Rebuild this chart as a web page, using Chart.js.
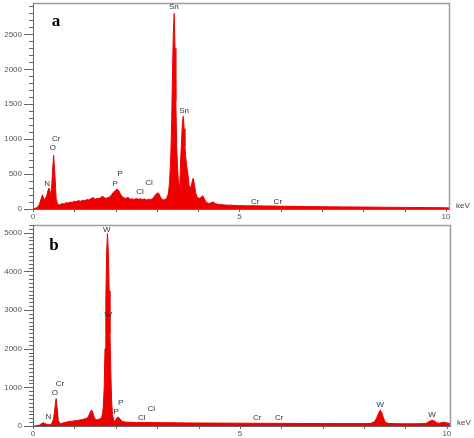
<!DOCTYPE html>
<html><head><meta charset="utf-8">
<script src="https://cdn.jsdelivr.net/npm/chart.js@4/dist/chart.umd.min.js"></script>
<style>
html,body{margin:0;padding:0;background:#fff;width:474px;height:438px;overflow:hidden}
canvas{position:absolute;left:0}
#ca{top:0}
#cb{top:220px}
</style></head><body>
<canvas id="ca" width="474" height="220"></canvas>
<canvas id="cb" width="474" height="218"></canvas>
<script>
// ---- Panel a spectrum ----
const energyA=[0.00,0.05,0.10,0.15,0.20,0.23,0.27,0.30,0.33,0.36,0.39,0.42,0.45,0.48,0.50,0.53,0.56,0.60,0.65,0.70,0.75,0.80,0.85,0.90,0.95,1.00,1.05,1.10,1.15,1.20,1.25,1.30,1.35,1.40,1.45,1.50,1.55,1.60,1.65,1.70,1.75,1.80,1.85,1.90,1.95,2.00,2.04,2.08,2.12,2.16,2.20,2.25,2.30,2.35,2.40,2.45,2.50,2.55,2.60,2.65,2.70,2.75,2.80,2.85,2.90,2.95,3.00,3.04,3.08,3.12,3.16,3.20,3.24,3.28,3.31,3.34,3.36,3.38,3.40,3.42,3.44,3.46,3.48,3.50,3.52,3.54,3.56,3.58,3.60,3.62,3.64,3.66,3.68,3.70,3.72,3.75,3.78,3.80,3.83,3.86,3.88,3.91,3.94,3.97,4.00,4.04,4.08,4.11,4.14,4.18,4.22,4.26,4.30,4.34,4.38,4.42,4.50,4.60,4.70,4.80,4.90,5.00,5.20,5.40,5.60,5.80,6.00,6.30,6.60,7.00,7.50,8.00,8.50,9.00,9.50,10.00,10.10];
const countsA=[0,10,20,60,150,205,120,160,180,260,300,200,300,600,770,500,150,60,60,80,70,90,85,100,95,110,105,120,110,125,120,135,130,145,165,140,150,145,170,180,150,160,170,200,240,270,285,260,210,180,160,150,170,140,145,135,150,140,145,135,145,130,140,135,150,190,225,230,180,140,130,135,160,220,400,800,1300,2000,2550,2800,2300,1550,900,600,420,340,420,750,1000,1250,1330,1150,900,750,620,520,330,280,320,400,440,350,230,180,160,150,175,190,160,110,90,80,85,100,95,75,65,60,55,55,50,48,45,45,43,42,40,38,35,32,30,28,25,23,20,18,15];
// ---- Panel b spectrum ----
const energyB=[0.00,0.05,0.10,0.15,0.20,0.25,0.30,0.35,0.40,0.45,0.50,0.54,0.56,0.58,0.61,0.65,0.70,0.75,0.80,0.85,0.90,0.95,1.00,1.05,1.10,1.15,1.20,1.25,1.30,1.34,1.38,1.41,1.44,1.47,1.50,1.54,1.58,1.62,1.66,1.68,1.70,1.72,1.74,1.76,1.78,1.80,1.82,1.84,1.86,1.88,1.90,1.92,1.95,1.98,2.01,2.05,2.09,2.13,2.18,2.25,2.35,2.50,2.70,2.90,3.10,3.30,3.50,3.75,4.00,4.50,5.00,5.50,6.00,6.50,7.00,7.50,8.00,8.15,8.25,8.30,8.35,8.39,8.43,8.47,8.52,8.60,8.80,9.00,9.20,9.40,9.50,9.58,9.64,9.70,9.76,9.82,9.88,9.94,10.00,10.10];
const countsB=[0,5,10,20,60,85,60,40,35,50,200,560,710,500,150,60,70,85,100,110,120,125,135,140,150,160,170,185,200,250,350,410,380,250,180,160,170,190,230,320,520,1000,2000,3300,4500,4980,4500,3500,2400,1400,650,300,150,120,180,235,200,140,110,100,95,90,90,88,85,85,82,80,78,75,72,70,68,65,63,62,62,65,110,200,330,410,340,200,90,65,60,58,58,60,70,120,150,130,80,70,90,100,80,60];
// ---- Peak labels ----
const peakTextA=["Sn","Sn","Cr","O","N","P","P","Cl","Cl","Cr","Cr"];
const peakKeVA=[3.41,3.66,0.56,0.48,0.34,2.11,1.99,2.81,2.59,5.38,5.93];
const peakCountA=[2900,1400,1000,875,360,505,360,375,245,105,105];
const peakTextB=["W","W","Cr","O","N","P","P","Cl","Cl","Cr","Cr","W","W"];
const peakKeVB=[1.78,1.82,0.65,0.53,0.37,2.12,2.01,2.86,2.63,5.42,5.95,8.39,9.64];
const peakCountB=[5080,2870,1080,855,235,595,365,435,220,205,205,555,295];
// ---- Ticks ----
const xTickLabelValues=[0,5,10];
const yTickLabelsA=[0,500,1000,1500,2000,2500];
const yTickLabelsB=[0,1000,2000,3000,4000,5000];
const yMinorStep=100;
const yMaxA=2950, yMaxB=5200, xMax=10.1;

const RED='#ee0000';
const FONT='"Liberation Sans", Arial, sans-serif';
function line(ctx,x1,y1,x2,y2){ctx.beginPath();ctx.moveTo(x1,y1);ctx.lineTo(x2,y2);ctx.stroke();}

function makeDecor(cfg){
  return {id:'decor',afterDraw(chart){
    const ctx=chart.ctx,a=chart.chartArea,x=chart.scales.x,y=chart.scales.y;
    ctx.save();
    // box
    ctx.strokeStyle='#9c9c9c';ctx.lineWidth=1.5;
    line(ctx,a.left,a.top+0.5,a.right,a.top+0.5);
    line(ctx,a.right-0.5,a.top,a.right-0.5,a.bottom);
    // axes
    ctx.strokeStyle='#666';ctx.lineWidth=1;
    line(ctx,a.left+0.5,a.top,a.left+0.5,a.bottom+0.5);
    line(ctx,a.left,a.bottom+0.5,a.right,a.bottom+0.5);
    // y ticks
    for(let v=0;v<=y.max;v+=yMinorStep){
      const py=Math.round(y.getPixelForValue(v))+0.5;
      const len=cfg.ylabels.includes(v)?9:4;
      line(ctx,a.left-len,py,a.left,py);
    }
    // x ticks
    for(let k=0;k<=10;k++){
      const px=Math.round(x.getPixelForValue(k))+0.5;
      line(ctx,px,a.bottom,px,a.bottom+3);
    }
    // tick labels
    ctx.font='8px '+FONT;ctx.fillStyle='#555';
    ctx.textAlign='right';ctx.textBaseline='middle';
    cfg.ylabels.forEach(v=>ctx.fillText(String(v),a.left-11,y.getPixelForValue(v)));
    ctx.textAlign='center';ctx.textBaseline='top';
    xTickLabelValues.forEach(v=>ctx.fillText(String(v),x.getPixelForValue(v),a.bottom+4));
    // peak labels
    ctx.fillStyle='#333';ctx.textAlign='center';ctx.textBaseline='middle';
    cfg.texts.forEach((t,i)=>{
      ctx.fillText(t,x.getPixelForValue(cfg.kev[i]),y.getPixelForValue(cfg.cnt[i]));
    });
    // keV
    ctx.fillStyle='#444';ctx.textAlign='left';
    ctx.fillText('keV',a.right+6,a.bottom-3);
    // panel letter
    ctx.font='bold 17px "Liberation Serif", "Times New Roman", serif';
    ctx.fillStyle='#000';ctx.textAlign='center';
    ctx.fillText(cfg.letter,a.left+cfg.lx,a.top+cfg.ly);
    ctx.restore();
  }};
}

function makeChart(id,energy,counts,cfg){
  return new Chart(document.getElementById(id),{
    type:'line',
    data:{datasets:[{data:energy.map((e,i)=>({x:e,y:counts[i]})),
      borderColor:RED,backgroundColor:RED,borderWidth:1,fill:'origin',pointRadius:0,tension:0}]},
    options:{
      responsive:false,animation:false,devicePixelRatio:1,
      layout:{padding:{left:0,right:cfg.padR,top:cfg.padT,bottom:0}},
      plugins:{legend:{display:false},tooltip:{enabled:false}},
      scales:{
        x:{type:'linear',min:0,max:xMax,
          grid:{display:false,drawTicks:false},border:{display:false},
          afterFit(s){s.height=cfg.xh;},
          ticks:{display:false}},
        y:{type:'linear',min:0,max:cfg.ymax,
          grid:{display:false,drawTicks:false},border:{display:false},
          afterFit(s){s.width=33;},
          ticks:{display:false}}
      }
    },
    plugins:[makeDecor(cfg)]
  });
}

makeChart('ca',energyA,countsA,{padR:24,padT:3,xh:11,ymax:yMaxA,ylabels:yTickLabelsA,
  texts:peakTextA,kev:peakKeVA,cnt:peakCountA,letter:'a',lx:23,ly:19});
makeChart('cb',energyB,countsB,{padR:23,padT:5,xh:12,ymax:yMaxB,ylabels:yTickLabelsB,
  texts:peakTextB,kev:peakKeVB,cnt:peakCountB,letter:'b',lx:21,ly:21});
</script>
</body></html>
